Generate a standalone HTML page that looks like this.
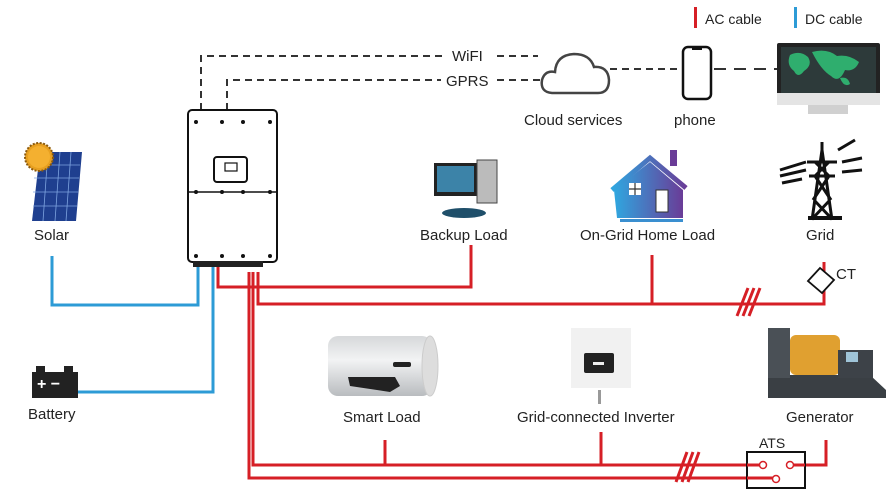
<!DOCTYPE html>
<html><head><meta charset="utf-8"><style>
html,body{margin:0;padding:0;background:#fff;}
svg{display:block;font-family:"Liberation Sans",Arial,sans-serif;}
</style></head><body>
<svg width="895" height="493" viewBox="0 0 895 493" xmlns="http://www.w3.org/2000/svg">
<defs>
<linearGradient id="house" x1="0" x2="1"><stop offset="0" stop-color="#2fa7e0"/><stop offset="1" stop-color="#6a3c97"/></linearGradient>
<linearGradient id="cyl" x1="0" y1="0" x2="0" y2="1"><stop offset="0" stop-color="#d6d8da"/><stop offset="0.4" stop-color="#f2f3f4"/><stop offset="1" stop-color="#b9bcbf"/></linearGradient>
</defs>
<!-- legend -->
<rect x="694" y="7" width="3" height="21" fill="#d61f26"/>
<text x="705" y="24" font-size="14" fill="#222">AC cable</text>
<rect x="794" y="7" width="3" height="21" fill="#2d9bd6"/>
<text x="805" y="24" font-size="14" fill="#222">DC cable</text>

<!-- dashed comm -->
<g stroke="#333" stroke-width="2" fill="none" stroke-dasharray="7,5">
<path d="M201 110 V56 H445"/><path d="M497 56 H538"/>
<path d="M227 110 V80 H441"/><path d="M497 80 H540"/>
<path d="M610 69 H682"/>
<path d="M714 69 H778" stroke-dasharray="12,8"/>
</g>
<text x="452" y="61" font-size="15" fill="#222">WiFI</text>
<text x="446" y="86" font-size="15" fill="#222">GPRS</text>

<!-- cloud -->
<path d="M552 93 Q540 92 542 80 Q545 70 555 72 Q556 55 574 54 Q590 54 594 67 Q608 66 609 80 Q609 93 598 93 Z" fill="#fff" stroke="#444" stroke-width="2.5"/>
<text x="524" y="125" font-size="15" fill="#222">Cloud services</text>
<!-- phone -->
<rect x="683" y="47" width="28" height="52" rx="5" fill="#fff" stroke="#111" stroke-width="2.5"/>
<rect x="692" y="47" width="10" height="3" fill="#111"/>
<text x="674" y="125" font-size="15" fill="#222">phone</text>
<!-- monitor -->
<rect x="777" y="43" width="103" height="62" rx="2" fill="#222"/>
<rect x="781" y="47" width="95" height="46" fill="#2d3a3a"/>
<path d="M790 55 q10-5 18 2 q5 8-4 14 q-6 8-10 0 q-8-6-4-16z M812 52 q15-4 25 4 q12-2 22 6 q-4 10-14 8 q-6 14-14 6 q-10-6-19-24z M840 78 q8-2 10 6 q-6 4-10-6z" fill="#2fae6e"/>
<rect x="777" y="93" width="103" height="12" fill="#e4e4e4"/>
<rect x="808" y="105" width="40" height="9" fill="#d0d0d0"/>

<!-- inverter -->
<rect x="188" y="110" width="89" height="152" rx="4" fill="#fff" stroke="#111" stroke-width="2"/>
<line x1="188" y1="192" x2="277" y2="192" stroke="#111" stroke-width="1.5"/>
<rect x="214" y="157" width="33" height="25" rx="3" fill="#fff" stroke="#111" stroke-width="2"/>
<rect x="225" y="163" width="12" height="8" fill="none" stroke="#111" stroke-width="1.2"/>
<g fill="#111"><circle cx="196" cy="122" r="2"/><circle cx="222" cy="122" r="2"/><circle cx="243" cy="122" r="2"/><circle cx="270" cy="122" r="2"/><circle cx="196" cy="192" r="2"/><circle cx="222" cy="192" r="2"/><circle cx="243" cy="192" r="2"/><circle cx="270" cy="192" r="2"/><circle cx="196" cy="256" r="2"/><circle cx="222" cy="256" r="2"/><circle cx="243" cy="256" r="2"/><circle cx="270" cy="256" r="2"/></g>
<rect x="193" y="261" width="70" height="6" fill="#222"/>

<!-- DC lines -->
<g stroke="#2d9bd6" stroke-width="3" fill="none">
<path d="M52 256 V305 H198 V267"/>
<path d="M78 392 H213 V267"/>
</g>
<!-- AC lines -->
<g stroke="#d61f26" stroke-width="3" fill="none">
<path d="M218 267 V287 H471 V245"/>
<path d="M258 272 V304 H824 V262"/>
<path d="M652 255 V304"/>
<path d="M253 272 V465 H757"/>
<path d="M249 272 V478 H776"/>
<path d="M385 440 V465"/><path d="M601 432 V465"/>
<path d="M826 440 V465 H795"/>
<path d="M737 316 L748 288 M743 316 L754 288 M749 316 L760 288"/>
<path d="M676 482 L687 452 M682 482 L693 452 M688 482 L699 452"/>
</g>
<!-- ATS -->
<text x="759" y="448" font-size="14" fill="#222">ATS</text>
<rect x="747" y="452" width="58" height="36" fill="#fff" stroke="#111" stroke-width="2"/>
<g stroke="#d61f26" stroke-width="3"><path d="M747 465 H762 M790 465 H805 M747 478 H776"/></g>
<g fill="#fff" stroke="#d61f26" stroke-width="1.5"><circle cx="763" cy="465" r="3.5"/><circle cx="790" cy="465" r="3.5"/><circle cx="776" cy="479" r="3.5"/></g>

<!-- solar -->
<polygon points="40,152 82,152 76,221 32,221" fill="#1f3f8f"/>
<g stroke="#7ea4e0" stroke-width="0.8"><path d="M35 165H80 M34 178H79 M33 192H78 M33 206H77 M48 152L43 221 M60 152L55 221 M71 152L66 221"/></g>
<circle cx="39" cy="157" r="14" fill="#e8a020" stroke="#8a5a10" stroke-width="2" stroke-dasharray="2,1.5"/>
<circle cx="39" cy="157" r="11" fill="#f4b030"/>
<text x="34" y="240" font-size="15" fill="#222">Solar</text>
<!-- battery -->
<rect x="32" y="372" width="46" height="26" fill="#222"/>
<rect x="36" y="366" width="9" height="6" fill="#222"/><rect x="64" y="366" width="9" height="6" fill="#222"/>
<text x="37" y="389" font-size="16" font-weight="bold" fill="#fff">+ −</text>
<text x="28" y="419" font-size="15" fill="#222">Battery</text>

<!-- backup load -->
<rect x="434" y="163" width="43" height="33" fill="#222"/><rect x="437" y="166" width="37" height="26" fill="#3c83a8"/>
<rect x="477" y="160" width="20" height="43" fill="#bbb" stroke="#444"/>
<ellipse cx="464" cy="213" rx="22" ry="5" fill="#1f4f6a"/>
<text x="420" y="240" font-size="15" fill="#222">Backup Load</text>

<!-- house -->
<polygon points="614,190 650,162 683,190 683,218 617,218" fill="url(#house)"/>
<path d="M612 190 L650 158 L686 188" fill="none" stroke="url(#house)" stroke-width="5"/>
<rect x="670" y="150" width="7" height="16" fill="#6a3c97"/>
<rect x="629" y="183" width="12" height="12" fill="#fff"/><path d="M635 183V195M629 189H641" stroke="#333" stroke-width="1.2"/>
<rect x="656" y="190" width="12" height="22" fill="#fff" stroke="#333"/>
<rect x="620" y="219" width="63" height="3" fill="#3a8fd0"/>
<text x="580" y="240" font-size="15" fill="#222">On-Grid Home Load</text>

<!-- tower -->
<g stroke="#111" stroke-width="3" fill="none">
<path d="M812 220 L822 150 L832 220 M822 142 V150 M807 162 H837 M809 176 H835 M815 162 L829 176 M829 162 L815 176 M815 176 L831 200 M829 176 L813 200 M814 200 L831 218 M830 200 L813 218"/>
<path d="M808 218 H842" stroke-width="4"/>
<path d="M838 150 L855 140 M842 162 L862 158 M842 172 L862 170 M780 170 L806 162 M780 176 L806 170 M782 183 L802 179"/>
</g>
<text x="806" y="240" font-size="15" fill="#222">Grid</text>
<!-- CT -->
<polygon points="808,281 820,268 834,280 822,293" fill="#fff" stroke="#111" stroke-width="1.8"/>
<text x="836" y="279" font-size="15" fill="#222">CT</text>

<!-- smart load -->
<rect x="328" y="336" width="104" height="60" rx="10" fill="url(#cyl)"/>
<ellipse cx="430" cy="366" rx="8" ry="30" fill="#ddd" stroke="#ccc"/>
<rect x="393" y="362" width="18" height="5" rx="2" fill="#222"/>
<path d="M348 377 H395 L400 386 L390 392 L350 386 Z" fill="#222"/>
<text x="343" y="422" font-size="15" fill="#222">Smart Load</text>

<!-- grid-connected inverter -->
<rect x="571" y="328" width="60" height="60" fill="#f1f1f1"/>
<rect x="584" y="353" width="30" height="20" rx="2" fill="#222"/><rect x="593" y="362" width="11" height="3" fill="#eee"/>
<rect x="598" y="390" width="3" height="14" fill="#999"/>
<text x="517" y="422" font-size="15" fill="#222">Grid-connected Inverter</text>

<!-- generator -->
<polygon points="768,375 870,375 886,390 886,398 768,398" fill="#3a3f44"/>
<rect x="768" y="328" width="22" height="50" fill="#4a5056"/>
<rect x="790" y="335" width="50" height="40" rx="6" fill="#e0a030"/>
<rect x="838" y="350" width="35" height="28" fill="#3d4248"/>
<rect x="846" y="352" width="12" height="10" fill="#9fc4d8"/>
<text x="786" y="422" font-size="15" fill="#222">Generator</text>
</svg>
</body></html>
